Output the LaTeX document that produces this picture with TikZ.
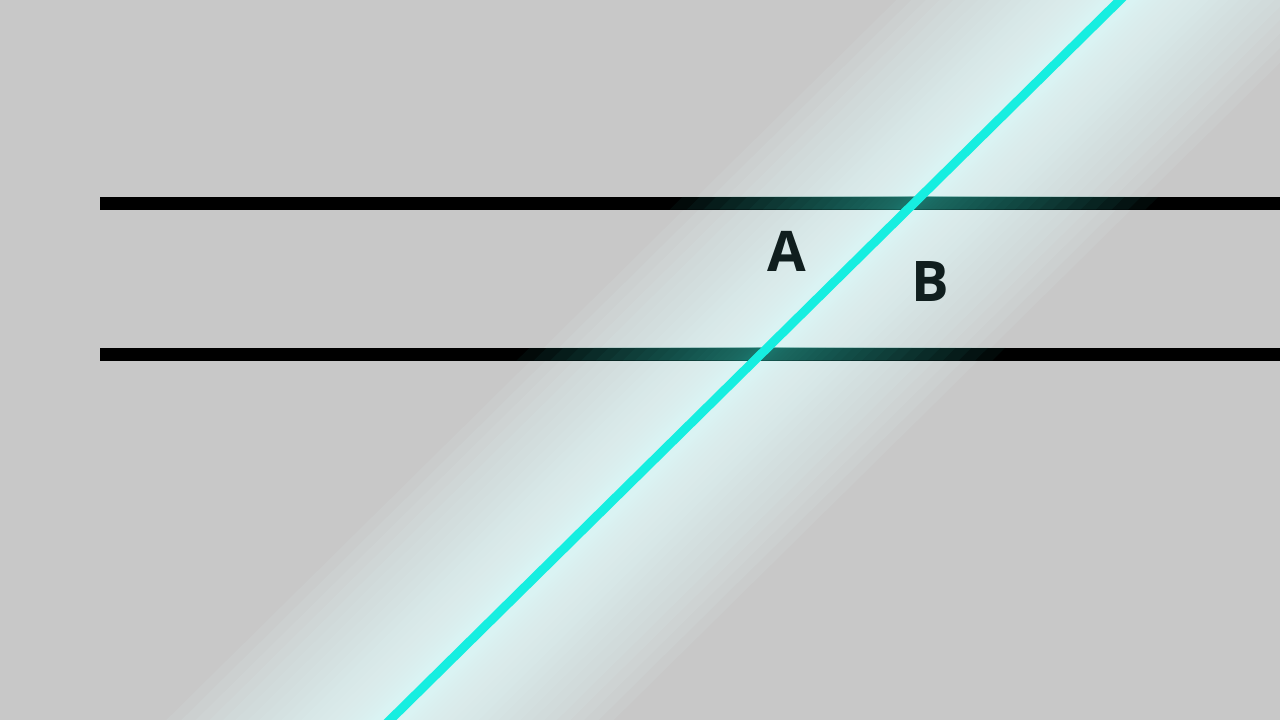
\documentclass[tikz,border=0pt]{standalone}
\usepackage{fontspec}
\setmainfont{Open Sans}
\usetikzlibrary{calc}
\definecolor{bg}{RGB}{200,200,200}
\definecolor{beam}{RGB}{22,238,224}
\definecolor{glow}{RGB}{230,255,255}
\definecolor{tint}{RGB}{38,135,125}
\definecolor{lbl}{RGB}{16,30,30}
\tikzset{
  bar/.style={line width=13pt, black},
  glowstroke/.style={glow, opacity=0.08, line cap=butt},
  tintstroke/.style={tint, opacity=0.08, line cap=butt},
  lab/.style={font=\fontsize{56}{56}\selectfont\bfseries, text=lbl, inner sep=0pt}
}
\begin{document}
\begin{tikzpicture}[x=1pt,y=-1pt]
\fill[bg] (0,0) rectangle (1280,720);
\useasboundingbox (0,0) rectangle (1280,720);
\coordinate (b1) at (100,203);
\coordinate (b2) at (1280,203);
\coordinate (c1) at (100,354);
\coordinate (c2) at (1280,354);
\coordinate (s) at (390,720);
\coordinate (e) at (1120,0);
% glow on the background
\begin{scope}
\clip (0,0) rectangle (1280,720);
\foreach \i in {1,...,28}{
  \pgfmathsetmacro{\w}{14+300*((29-\i)/28)^2}
  \draw[glowstroke, line width=\w pt] ($(s)!-0.4!(e)$) -- ($(s)!1.4!(e)$);
}
\end{scope}
\draw[bar] (b1) -- (b2);
\draw[bar] (c1) -- (c2);
% teal tint on the bars
\begin{scope}
\clip (100,196.5) rectangle (1280,209.5) (100,347.5) rectangle (1280,360.5);
\foreach \i in {1,...,26}{
  \pgfmathsetmacro{\w}{14+320*((27-\i)/26)^2}
  \draw[tintstroke, line width=\w pt] ($(s)!-0.4!(e)$) -- ($(s)!1.4!(e)$);
}
\end{scope}
\draw[beam, line width=9pt] ($(s)!-0.05!(e)$) -- ($(s)!1.05!(e)$);
\node[lab] (A) at (787,251) {A};
\node[lab] (B) at (930,282) {B};
\end{tikzpicture}
\end{document}
